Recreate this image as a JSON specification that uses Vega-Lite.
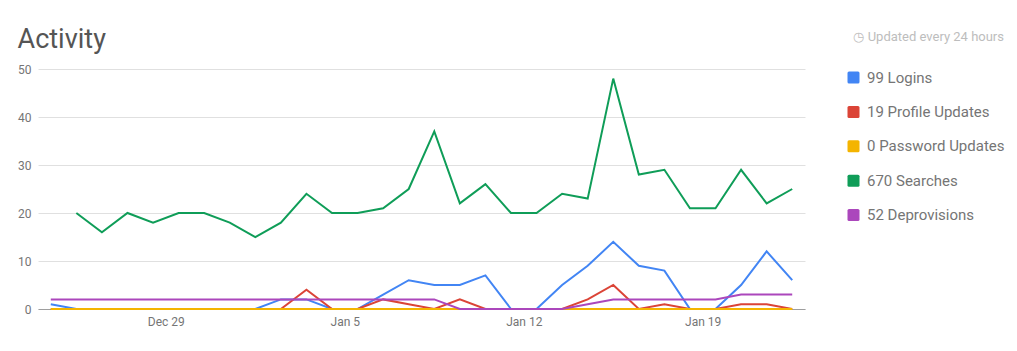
{
  "$schema": "https://vega.github.io/schema/vega-lite/v6.json",
  "width": 767,
  "height": 240,
  "autosize": {"type": "pad"},
  "padding": {"left": 17, "top": 26, "right": 10, "bottom": 10},
  "background": "white",
  "title": {"text": "Activity", "anchor": "start", "frame": "bounds", "fontSize": 27, "fontWeight": "normal", "color": "#555555", "font": "Roboto", "offset": -23},
  "data": {"values": [
    {"date": "2017-12-24T12:00", "99 Logins": 1, "19 Profile Updates": 0, "0 Password Updates": 0, "52 Deprovisions": 2},
    {"date": "2017-12-25T12:00", "99 Logins": 0, "19 Profile Updates": 0, "0 Password Updates": 0, "670 Searches": 20, "52 Deprovisions": 2},
    {"date": "2017-12-26T12:00", "99 Logins": 0, "19 Profile Updates": 0, "0 Password Updates": 0, "670 Searches": 16, "52 Deprovisions": 2},
    {"date": "2017-12-27T12:00", "99 Logins": 0, "19 Profile Updates": 0, "0 Password Updates": 0, "670 Searches": 20, "52 Deprovisions": 2},
    {"date": "2017-12-28T12:00", "99 Logins": 0, "19 Profile Updates": 0, "0 Password Updates": 0, "670 Searches": 18, "52 Deprovisions": 2},
    {"date": "2017-12-29T12:00", "99 Logins": 0, "19 Profile Updates": 0, "0 Password Updates": 0, "670 Searches": 20, "52 Deprovisions": 2},
    {"date": "2017-12-30T12:00", "99 Logins": 0, "19 Profile Updates": 0, "0 Password Updates": 0, "670 Searches": 20, "52 Deprovisions": 2},
    {"date": "2017-12-31T12:00", "99 Logins": 0, "19 Profile Updates": 0, "0 Password Updates": 0, "670 Searches": 18, "52 Deprovisions": 2},
    {"date": "2018-01-01T12:00", "99 Logins": 0, "19 Profile Updates": 0, "0 Password Updates": 0, "670 Searches": 15, "52 Deprovisions": 2},
    {"date": "2018-01-02T12:00", "99 Logins": 2, "19 Profile Updates": 0, "0 Password Updates": 0, "670 Searches": 18, "52 Deprovisions": 2},
    {"date": "2018-01-03T12:00", "99 Logins": 2, "19 Profile Updates": 4, "0 Password Updates": 0, "670 Searches": 24, "52 Deprovisions": 2},
    {"date": "2018-01-04T12:00", "99 Logins": 0, "19 Profile Updates": 0, "0 Password Updates": 0, "670 Searches": 20, "52 Deprovisions": 2},
    {"date": "2018-01-05T12:00", "99 Logins": 0, "19 Profile Updates": 0, "0 Password Updates": 0, "670 Searches": 20, "52 Deprovisions": 2},
    {"date": "2018-01-06T12:00", "99 Logins": 3, "19 Profile Updates": 2, "0 Password Updates": 0, "670 Searches": 21, "52 Deprovisions": 2},
    {"date": "2018-01-07T12:00", "99 Logins": 6, "19 Profile Updates": 1, "0 Password Updates": 0, "670 Searches": 25, "52 Deprovisions": 2},
    {"date": "2018-01-08T12:00", "99 Logins": 5, "19 Profile Updates": 0, "0 Password Updates": 0, "670 Searches": 37, "52 Deprovisions": 2},
    {"date": "2018-01-09T12:00", "99 Logins": 5, "19 Profile Updates": 2, "0 Password Updates": 0, "670 Searches": 22, "52 Deprovisions": 0},
    {"date": "2018-01-10T12:00", "99 Logins": 7, "19 Profile Updates": 0, "0 Password Updates": 0, "670 Searches": 26, "52 Deprovisions": 0},
    {"date": "2018-01-11T12:00", "99 Logins": 0, "19 Profile Updates": 0, "0 Password Updates": 0, "670 Searches": 20, "52 Deprovisions": 0},
    {"date": "2018-01-12T12:00", "99 Logins": 0, "19 Profile Updates": 0, "0 Password Updates": 0, "670 Searches": 20, "52 Deprovisions": 0},
    {"date": "2018-01-13T12:00", "99 Logins": 5, "19 Profile Updates": 0, "0 Password Updates": 0, "670 Searches": 24, "52 Deprovisions": 0},
    {"date": "2018-01-14T12:00", "99 Logins": 9, "19 Profile Updates": 2, "0 Password Updates": 0, "670 Searches": 23, "52 Deprovisions": 1},
    {"date": "2018-01-15T12:00", "99 Logins": 14, "19 Profile Updates": 5, "0 Password Updates": 0, "670 Searches": 48, "52 Deprovisions": 2},
    {"date": "2018-01-16T12:00", "99 Logins": 9, "19 Profile Updates": 0, "0 Password Updates": 0, "670 Searches": 28, "52 Deprovisions": 2},
    {"date": "2018-01-17T12:00", "99 Logins": 8, "19 Profile Updates": 1, "0 Password Updates": 0, "670 Searches": 29, "52 Deprovisions": 2},
    {"date": "2018-01-18T12:00", "99 Logins": 0, "19 Profile Updates": 0, "0 Password Updates": 0, "670 Searches": 21, "52 Deprovisions": 2},
    {"date": "2018-01-19T12:00", "99 Logins": 0, "19 Profile Updates": 0, "0 Password Updates": 0, "670 Searches": 21, "52 Deprovisions": 2},
    {"date": "2018-01-20T12:00", "99 Logins": 5, "19 Profile Updates": 1, "0 Password Updates": 0, "670 Searches": 29, "52 Deprovisions": 3},
    {"date": "2018-01-21T12:00", "99 Logins": 12, "19 Profile Updates": 1, "0 Password Updates": 0, "670 Searches": 22, "52 Deprovisions": 3},
    {"date": "2018-01-22T12:00", "99 Logins": 6, "19 Profile Updates": 0, "0 Password Updates": 0, "670 Searches": 25, "52 Deprovisions": 3}
  ]},
  "transform": [
    {"fold": ["99 Logins", "19 Profile Updates", "0 Password Updates", "670 Searches", "52 Deprovisions"], "as": ["series", "value"]}
  ],
  "mark": {"type": "line", "strokeWidth": 2, "interpolate": "linear"},
  "encoding": {
    "x": {
      "field": "date", "type": "temporal",
      "scale": {"domain": [{"year": 2017, "month": 12, "date": 24}, {"year": 2018, "month": 1, "date": 23}], "nice": false},
      "axis": {
        "values": [{"year": 2017, "month": 12, "date": 29}, {"year": 2018, "month": 1, "date": 5}, {"year": 2018, "month": 1, "date": 12}, {"year": 2018, "month": 1, "date": 19}],
        "format": "%b %-d", "grid": false, "ticks": false, "domainColor": "#9e9e9e", "labelColor": "#757575", "labelFontSize": 12, "labelPadding": 7, "title": null
      }
    },
    "y": {
      "field": "value", "type": "quantitative",
      "scale": {"domain": [0, 50], "nice": false},
      "axis": {"values": [0, 10, 20, 30, 40, 50], "grid": true, "gridColor": "#e0e0e0", "domain": false, "ticks": false, "labelColor": "#757575", "labelFontSize": 12, "labelPadding": 7, "title": null}
    },
    "color": {
      "field": "series", "type": "nominal",
      "scale": {"domain": ["99 Logins", "19 Profile Updates", "0 Password Updates", "670 Searches", "52 Deprovisions"], "range": ["#4285F4", "#DB4437", "#F4B400", "#0F9D58", "#AB47BC"]},
      "legend": {
        "title": "◷ Updated every 24 hours",
        "orient": "none", "legendX": 808, "legendY": -38,
        "titleAnchor": "end", "titleFontSize": 13, "titleColor": "#bdbdbd", "titleFontWeight": "normal", "titlePadding": 26,
        "symbolType": "M -0.75,-1 L 0.75,-1 Q 1,-1 1,-0.75 L 1,0.75 Q 1,1 0.75,1 L -0.75,1 Q -1,1 -1,0.75 L -1,-0.75 Q -1,-1 -0.75,-1 Z",
        "symbolSize": 144, "symbolStrokeWidth": 0,
        "labelFontSize": 15, "labelColor": "#757575", "labelOffset": 6, "rowPadding": 18.4,
        "encode": {"symbols": {"update": {"fill": {"scale": "color", "field": "value"}, "opacity": {"value": 1}}}}
      }
    }
  },
  "config": {"font": "Roboto", "view": {"stroke": null}}
}
